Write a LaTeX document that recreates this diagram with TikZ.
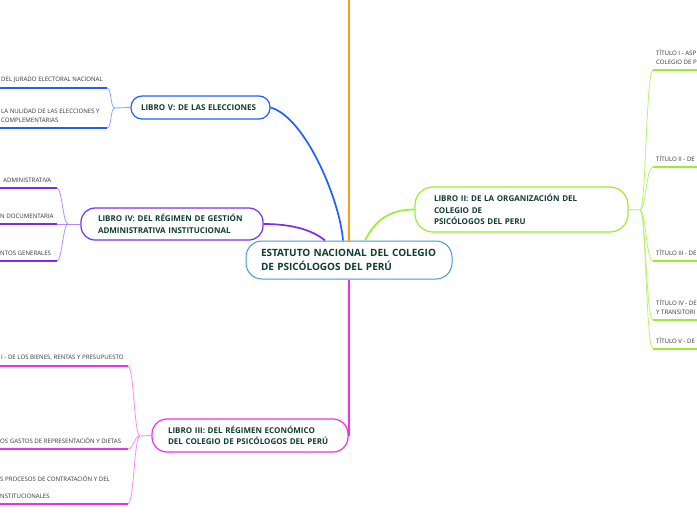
\documentclass[tikz,border=0pt]{standalone}
\usepackage{fontspec}
\setmainfont{Open Sans}
\definecolor{cblue}{HTML}{1F5FFF}
\definecolor{cpurple}{HTML}{7A2CF2}
\definecolor{cgreen}{HTML}{99EE33}
\definecolor{cmag}{HTML}{EE30EE}
\definecolor{corange}{HTML}{FF9C1C}
\definecolor{ccentral}{HTML}{3D9AD9}
\definecolor{ctext}{HTML}{0F3D2E}
\definecolor{csub}{HTML}{333333}
\begin{document}
\begin{tikzpicture}[x=1pt,y=-1pt,
  mainnode/.style={draw=ccentral, line width=1pt, rounded corners=16pt, fill=white, text=ctext,
    font=\fontsize{10}{14}\selectfont\bfseries, align=left, text width=176pt, inner xsep=15pt,
    inner ysep=0pt, minimum height=38pt},
  book/.style={fill=white, text=ctext, font=\fontsize{8}{11.5}\selectfont\bfseries, align=left,
    inner ysep=0pt, line width=1.2pt, rounded corners=11pt},
  stub/.style={line width=0.9pt},
  twig/.style={line width=0.8pt},
  uline/.style={line width=1.6pt},
  sub/.style={font=\fontsize{6.1}{9}\selectfont, text=csub, inner sep=0pt, align=left, anchor=south west},
  mainline/.style={line width=1.7pt}
]
\useasboundingbox (0,0) rectangle (697,520);
\clip (0,0) rectangle (697,520);

% ---------- main nodes ----------
\node[mainnode] (c) at (349,260) {ESTATUTO NACIONAL DEL COLEGIO\\DE PSICÓLOGOS DEL PERÚ};
\node[book, draw=cblue, text width=119pt, inner xsep=10pt, minimum height=23pt] (b5) at (200.5,107.5) {\mbox{LIBRO V: DE LAS ELECCIONES}};
\node[book, draw=cpurple, text width=148pt, inner xsep=17pt, minimum height=32pt, rounded corners=14pt] (b4) at (172,224) {LIBRO IV: DEL RÉGIMEN DE GESTIÓN\\ADMINISTRATIVA INSTITUCIONAL};
\node[book, draw=cgreen, text width=175pt, inner xsep=19pt, minimum height=45pt, rounded corners=18pt] (b2) at (521.5,209.5) {LIBRO II: DE LA ORGANIZACIÓN DEL\\COLEGIO DE\\PSICÓLOGOS DEL PERU};
\node[book, draw=cmag, text width=164pt, inner xsep=16pt, minimum height=33pt, rounded corners=15pt] (b3) at (250,435.5) {LIBRO III: DEL RÉGIMEN ECONÓMICO\\DEL COLEGIO DE PSICÓLOGOS DEL PERÚ};

% ---------- main connectors ----------
\coordinate (top) at (349,-5);
\draw[corange, mainline] (top) -- (c.north);
\draw[cblue, mainline] (b5.east) .. controls +(35,10) and +(-3,-40) .. ([xshift=-6pt]c.north);
\draw[cpurple, mainline] (b4.east) .. controls +(30,0) and +(-12,-10) .. ([xshift=-24pt]c.north);
\draw[cgreen, mainline] ([xshift=16pt]c.north) .. controls +(10,-20) and +(-25,0) .. (b2.west);
\draw[cmag, mainline] (c.south) -- (c.south |- b3.east);

% ---------- LIBRO V children ----------
\coordinate (p5) at (115,108);
\coordinate (e51) at (107,88);  \coordinate (l51) at (-5,88);
\coordinate (e52) at (107,128); \coordinate (l52) at (-5,128);
\draw[cblue!55, stub] (b5.west) -- (p5);
\draw[cblue!55, twig] (p5) .. controls +(-5,0) and +(5,0) .. (e51);
\draw[cblue!55, twig] (p5) .. controls +(-5,0) and +(5,0) .. (e52);
\draw[cblue, uline] (e51) -- (l51);
\draw[cblue, uline] (e52) -- (l52);
\node[sub] (t51) at (1,82.5) {DEL JURADO ELECTORAL NACIONAL};
\node[sub] (t52) at (1,122.5) {LA NULIDAD DE LAS ELECCIONES Y\\COMPLEMENTARIAS};

% ---------- LIBRO IV children ----------
\coordinate (p4) at (68,224);
\coordinate (e41) at (57,188); \coordinate (l41) at (-5,188);
\coordinate (e42) at (57,224); \coordinate (l42) at (-5,224);
\coordinate (e43) at (57,261); \coordinate (l43) at (-5,261);
\draw[cpurple!55, stub] (b4.west) -- (p4);
\draw[cpurple!55, twig] (p4) .. controls +(-5,0) and +(5,0) .. (e41);
\draw[cpurple!55, twig] (p4) -- (e42);
\draw[cpurple!55, twig] (p4) .. controls +(-5,0) and +(5,0) .. (e43);
\draw[cpurple, uline] (e41) -- (l41);
\draw[cpurple, uline] (e42) -- (l42);
\draw[cpurple, uline] (e43) -- (l43);
\node[sub] (t41) at (3,182.5) {ADMINISTRATIVA};
\node[sub] (t42) at (0,218.5) {N DOCUMENTARIA};
\node[sub] (t43) at (0,255.5) {NTOS GENERALES};

% ---------- LIBRO III children ----------
\coordinate (p3) at (140,436);
\coordinate (e31) at (128,366); \coordinate (l31) at (-5,366);
\coordinate (e32) at (128,449); \coordinate (l32) at (-5,449);
\coordinate (e33) at (128,504); \coordinate (l33) at (-5,504);
\draw[cmag!55, stub] (b3.west) -- (p3);
\draw[cmag!55, twig] (p3) .. controls +(-6,0) and +(6,0) .. (e31);
\draw[cmag!55, twig] (p3) .. controls +(-6,0) and +(6,0) .. (e32);
\draw[cmag!55, twig] (p3) .. controls +(-6,0) and +(6,0) .. (e33);
\draw[cmag, uline] (e31) -- (l31);
\draw[cmag, uline] (e32) -- (l32);
\draw[cmag, uline] (e33) -- (l33);
\node[sub] (t31) at (1,360.5) {I - DE LOS BIENES, RENTAS Y PRESUPUESTO};
\node[sub] (t32) at (0,443.5) {OS GASTOS DE REPRESENTACIÓN Y DIETAS};
\node[sub] (t33) at (0,498.5) {S PROCESOS DE CONTRATACIÓN Y DEL\\[8pt]NSTITUCIONALES};

% ---------- LIBRO II children ----------
\coordinate (p2) at (640,210);
\coordinate (e21) at (653,70);  \coordinate (l21) at (702,70);
\coordinate (e22) at (653,167); \coordinate (l22) at (702,167);
\coordinate (e23) at (653,261); \coordinate (l23) at (702,261);
\coordinate (e24) at (653,320); \coordinate (l24) at (702,320);
\coordinate (e25) at (653,349); \coordinate (l25) at (702,349);
\draw[cgreen!70, stub] (b2.east) -- (p2);
\foreach \e in {e21,e22,e23,e24,e25}
  \draw[cgreen!70, twig] (p2) .. controls +(6,0) and +(-7,0) .. (\e);
\draw[cgreen, uline] (e21) -- (l21);
\draw[cgreen, uline] (e22) -- (l22);
\draw[cgreen, uline] (e23) -- (l23);
\draw[cgreen, uline] (e24) -- (l24);
\draw[cgreen, uline] (e25) -- (l25);
\node[sub] (t21) at (656,64.5) {TÍTULO I - ASP\\COLEGIO DE P};
\node[sub] (t22) at (656,161.5) {TÍTULO II - DE};
\node[sub] (t23) at (656,255.5) {TÍTULO III - DE};
\node[sub] (t24) at (656,314.5) {TÍTULO IV - DE\\Y TRANSITORI};
\node[sub] (t25) at (656,343.5) {TÍTULO V - DE};
\end{tikzpicture}
\end{document}
